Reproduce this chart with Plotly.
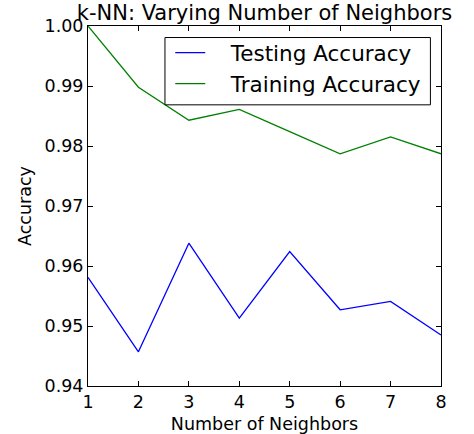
import plotly.graph_objects as go

neighbors = [1, 2, 3, 4, 5, 6, 7, 8]
test_accuracy = [0.9581, 0.9457, 0.9638, 0.9513, 0.9624, 0.9527, 0.9541, 0.9485]
train_accuracy = [1.0000, 0.9898, 0.9843, 0.9861, 0.9824, 0.9787, 0.9815, 0.9787]
y_ticks = [0.94, 0.95, 0.96, 0.97, 0.98, 0.99, 1.00]

pad = "\u00a0\u00a0\u00a0"  # matplotlib leaves a wide gap between handle and label

fig = go.Figure()
fig.add_trace(go.Scatter(x=neighbors, y=test_accuracy, mode="lines",
                         name=pad + "Testing Accuracy", line=dict(color="#0000ff", width=1.3)))
fig.add_trace(go.Scatter(x=neighbors, y=train_accuracy, mode="lines",
                         name=pad + "Training Accuracy", line=dict(color="#008000", width=1.3)))

axis_style = dict(showline=True, linecolor="black", linewidth=1, mirror="ticks",
                  ticks="inside", ticklen=5, tickcolor="black", tickwidth=1,
                  showgrid=False, zeroline=False, automargin=False,
                  tickfont=dict(size=17.5, color="black"))

fig.update_xaxes(range=[1, 8], tickvals=neighbors,
                 title=dict(text="Number of Neighbors", font=dict(size=17.5, color="black"), standoff=8),
                 **axis_style)
fig.update_yaxes(range=[0.94, 1.0], tickvals=y_ticks, tickformat=".2f",
                 title=dict(text="Accuracy", font=dict(size=17.5, color="black"), standoff=8),
                 **axis_style)

# legend frame (matplotlib style, with generous padding)
fig.add_shape(type="rect", xref="paper", yref="paper",
              x0=0.218, x1=0.970, y0=0.781, y1=0.968,
              line=dict(color="black", width=1), fillcolor="white", layer="above")

fig.update_layout(
    width=474, height=434,
    margin=dict(l=88, r=33, t=26, b=48, autoexpand=False),
    paper_bgcolor="white", plot_bgcolor="white",
    font=dict(family="DejaVu Sans", color="black"),
    title=dict(text="k-NN: Varying Number of Neighbors", x=0.558, xanchor="center",
               y=0.972, yanchor="middle", yref="container", font=dict(size=21, color="black")),
    legend=dict(x=0.233, y=0.983, xanchor="left", yanchor="top",
                borderwidth=0, bgcolor="rgba(0,0,0,0)",
                font=dict(size=21.5, color="black"), itemwidth=30,
                tracegroupgap=0),
)

# page body has a default 8px margin; drop it so the figure fills the window
fig.write_html("out.html", config={"displayModeBar": False},
               post_script="document.body.style.margin = '0';")
